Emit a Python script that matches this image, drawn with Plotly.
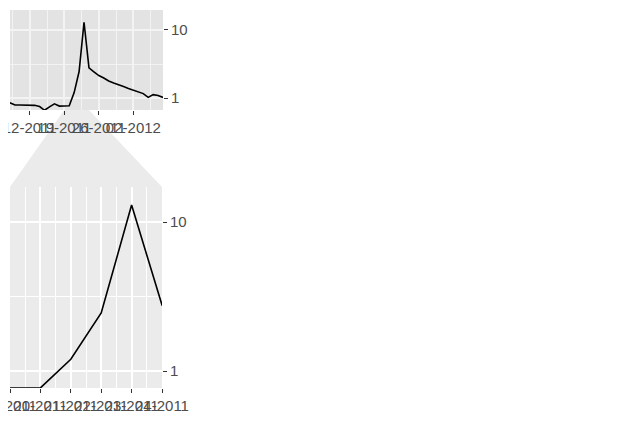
import plotly.graph_objects as go
import pandas as pd

# ---- data ----
dates = pd.date_range("2011-12-08", "2012-01-08", freq="D").strftime("%Y-%m-%d").tolist()
values = [0.85, 0.79, 0.79, 0.79, 0.79, 0.78, 0.75, 0.66, 0.74, 0.82,
          0.76, 0.77, 0.77, 1.2, 2.45, 13.0, 2.77, 2.43, 2.14, 1.97,
          1.78, 1.66, 1.58, 1.48, 1.38, 1.31, 1.25, 1.16, 1.02, 1.12,
          1.09, 1.02]
zoom_start, zoom_end = "2011-12-19", "2011-12-24"

top_ticks = ["2011-12-12", "2011-12-19", "2011-12-26", "2012-01-02"]
top_minor = ["2011-12-08 12:00", "2011-12-15 12:00", "2011-12-22 12:00",
             "2011-12-29 12:00", "2012-01-05 12:00"]
zoom_ticks = ["2011-12-19", "2011-12-20", "2011-12-21", "2011-12-22", "2011-12-23", "2011-12-24"]
zoom_minor = ["2011-12-19 12:00", "2011-12-20 12:00", "2011-12-21 12:00",
              "2011-12-22 12:00", "2011-12-23 12:00"]
y_ticks = [1, 10]
y_tick_text = ["1", "10"]
y_minor = [10 ** 0.5]

def lab(d):
    return pd.Timestamp(d).strftime("%d-%Y")

# page body has an 8px margin; size the figure to fit the window
OFF = 8
W, H = 622 - OFF, 422 - OFF
def dx(px):
    return (px - OFF) / W
def dy(py):
    return 1 - (py - OFF) / H

top_dom_x = [dx(10), dx(163)]
top_dom_y = [dy(110), dy(10)]
bot_dom_x = [dx(10), dx(162)]
bot_dom_y = [dy(388), dy(187)]

FONT = "Liberation Sans, Arial, sans-serif"
TXT = "#4D4D4D"
TICKC = "#333333"

fig = go.Figure()
fig.add_trace(go.Scatter(x=dates, y=values, mode="lines",
                         line=dict(color="black", width=1.6), xaxis="x", yaxis="y",
                         showlegend=False, hoverinfo="skip"))
fig.add_trace(go.Scatter(x=dates, y=values, mode="lines",
                         line=dict(color="black", width=1.6), xaxis="x2", yaxis="y2",
                         showlegend=False, hoverinfo="skip"))

def xax(domain, anchor, rng, ticks, minor, gridc):
    return dict(domain=domain, anchor=anchor, type="date", range=rng,
                tickmode="array", tickvals=ticks, ticktext=[lab(t) for t in ticks],
                tickangle=0, ticks="outside", ticklen=4, tickwidth=1.1, tickcolor=TICKC,
                tickfont=dict(family=FONT, size=15, color=TXT),
                ticklabeloverflow="allow",
                showgrid=True, gridcolor=gridc, gridwidth=1.6,
                minor=dict(tickmode="array", tickvals=minor, showgrid=True,
                           gridcolor=gridc, gridwidth=0.8, ticks=""),
                showline=False, zeroline=False, automargin=False, fixedrange=True)

def yax(domain, anchor, rng, gridc):
    return dict(domain=domain, anchor=anchor, type="log", range=rng, side="right",
                tickmode="array", tickvals=y_ticks, ticktext=y_tick_text,
                ticks="outside", ticklen=4, tickwidth=1.1, tickcolor=TICKC,
                tickfont=dict(family=FONT, size=15, color=TXT),
                ticklabeloverflow="allow",
                showgrid=True, gridcolor=gridc, gridwidth=1.6,
                minor=dict(tickmode="array", tickvals=y_minor, showgrid=True,
                           gridcolor=gridc, gridwidth=0.8, ticks=""),
                showline=False, zeroline=False, automargin=False, fixedrange=True)

top_range = [dates[0], dates[-1]]
fig.update_layout(
    width=W, height=H,
    margin=dict(l=0, r=0, t=0, b=0),
    paper_bgcolor="white", plot_bgcolor="#EBEBEB",
    font=dict(family=FONT, color=TXT),
    xaxis=xax(top_dom_x, "y", top_range, top_ticks, top_minor, "#F3F3F3"),
    yaxis=yax(top_dom_y, "x", [-0.1765, 1.294], "#F3F3F3"),
    xaxis2=xax(bot_dom_x, "y2", [zoom_start, zoom_end], zoom_ticks, zoom_minor, "white"),
    yaxis2=yax(bot_dom_y, "x2", [-0.114, 1.235], "white"),
)

# top panel background (slightly darker, as in reference)
fig.add_shape(type="rect", xref="x domain", yref="y domain", x0=0, x1=1, y0=0, y1=1,
              fillcolor="#E3E3E3", line=dict(width=0), layer="below")

# zoom indicator trapezoid: derived from zoom range on top axis
t0 = pd.Timestamp(top_range[0]).value
t1 = pd.Timestamp(top_range[1]).value
def top_paper(d):
    f = (pd.Timestamp(d).value - t0) / (t1 - t0)
    return top_dom_x[0] + f * (top_dom_x[1] - top_dom_x[0])
zx0, zx1 = top_paper(zoom_start), top_paper(zoom_end)
ytop = top_dom_y[0]
ybot = bot_dom_y[1]
path = (f"M {zx0},{ytop} L {zx1},{ytop} L {bot_dom_x[1]},{ybot} "
        f"L {bot_dom_x[0]},{ybot} Z")
fig.add_shape(type="path", xref="paper", yref="paper", path=path,
              fillcolor="#EBEBEB", line=dict(width=0), layer="below")

fig.write_html("out.html", config={"displayModeBar": False})
